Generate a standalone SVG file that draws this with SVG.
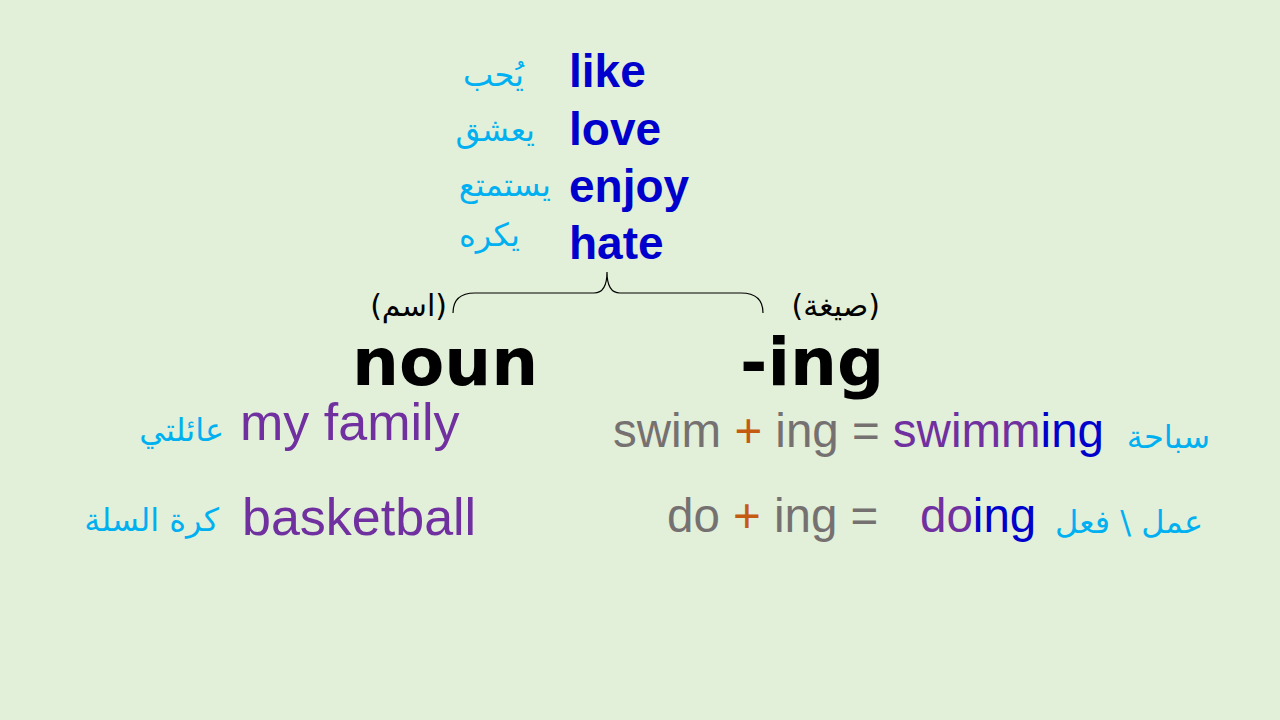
<svg xmlns="http://www.w3.org/2000/svg" width="1280" height="720" viewBox="0 0 1280 720">
<style>
.verb{font-family:"Liberation Sans",Arial,sans-serif;font-weight:bold;font-size:46px;fill:#0000CC;}
.ar{font-family:"DejaVu Sans",sans-serif;font-size:32px;fill:#00B0F0;text-anchor:end;}
.arb{font-family:"DejaVu Sans",sans-serif;font-size:30px;fill:#000;text-anchor:end;}
.big{font-family:"DejaVu Sans",sans-serif;font-weight:bold;font-size:66px;fill:#000;}
.pur{fill:#7030A0;}
.blu{fill:#0000CC;}
.gry{fill:#767171;}
.org{fill:#C55A11;}
.ex{font-family:"Liberation Sans",Arial,sans-serif;font-size:47.5px;}
.np{font-family:"Liberation Sans",Arial,sans-serif;font-size:52px;fill:#7030A0;}
</style>
<rect width="1280" height="720" fill="#E2EFD9"/>
<g id="verbs">
<text class="verb" x="569" y="87">like</text>
<text class="verb" x="569" y="145">love</text>
<text class="verb" x="569" y="202">enjoy</text>
<text class="verb" x="569" y="259">hate</text>
<text class="ar" x="524" y="86">يُحب</text>
<text class="ar" x="535" y="141">يعشق</text>
<text class="ar" x="551" y="196">يستمتع</text>
<text class="ar" x="520" y="246">يكره</text>
</g>
<g id="connectors">
<path d="M453,313 Q453,293 475,293 L594,293 Q607,293 607,272 Q607,293 620,293 L741,293 Q763,293 763,313" fill="none" stroke="#000" stroke-width="1.2"/>
</g>
<g id="noun">
<text class="arb" x="447" y="316">(اسم)</text>
<text class="big" x="352" y="385">noun</text>
</g>
<g id="ing">
<text class="arb" x="880" y="316">(صيغة)</text>
<text class="big" x="740" y="385">-ing</text>
</g>
<g id="noun-examples">
<text class="np" x="240" y="440">my family</text>
<text class="ar" x="224" y="441">عائلتي</text>
<text class="np" x="242" y="535">basketball</text>
<text class="ar" x="219" y="531">كرة السلة</text>
</g>
<g id="ing-examples">
<text class="ex gry" x="613" y="447">swim <tspan class="org">+</tspan> ing = <tspan class="pur">swimm</tspan><tspan class="blu">ing</tspan></text>
<text class="ar" x="1210" y="448">سباحة</text>
<text class="ex gry" x="667" y="532">do <tspan class="org">+</tspan> ing = </text>
<text class="ex pur" x="920" y="532">do<tspan class="blu">ing</tspan></text>
<text class="ar" x="1203" y="533">عمل \ فعل</text>
</g>
</svg>
